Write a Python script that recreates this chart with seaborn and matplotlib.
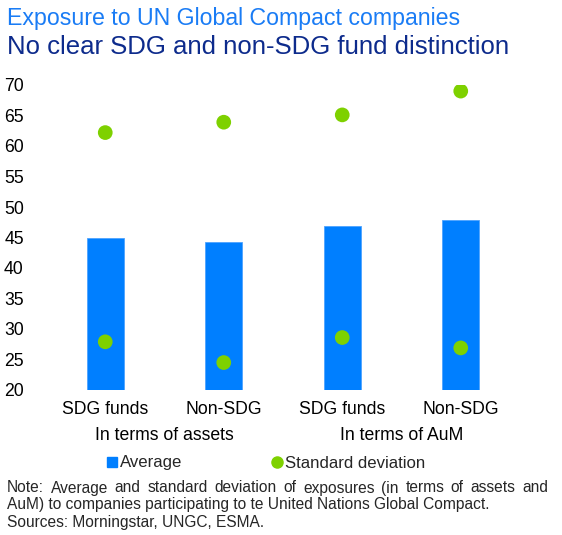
import matplotlib
matplotlib.use("Agg")
import matplotlib.pyplot as plt
import seaborn as sns
import pandas as pd
from matplotlib.lines import Line2D
from matplotlib.transforms import blended_transform_factory

# ---- data ----
categories = ["SDG funds", "Non-SDG", "SDG funds ", "Non-SDG "]
tick_labels = ["SDG funds", "Non-SDG", "SDG funds", "Non-SDG"]
groups = ["In terms of assets", "In terms of AuM"]
average = [45.0, 44.2, 46.9, 47.9]
sd_upper = [62.2, 63.9, 65.1, 69.0]
sd_lower = [27.9, 24.5, 28.6, 26.9]
yticks = [20, 25, 30, 35, 40, 45, 50, 55, 60, 65, 70]

title1 = "Exposure to UN Global Compact companies"
title2 = "No clear SDG and non-SDG fund distinction"
note_line1 = "Note: Average and standard deviation of exposures (in terms of assets and"
note_line2 = "AuM) to companies participating to te United Nations Global Compact."
note_line3 = "Sources: Morningstar, UNGC, ESMA."

BAR = "#007FFF"
GREEN = "#7ED100"
T1 = "#1A7CF5"
T2 = "#0D2B8C"

sns.set_theme(style="white")
plt.rcParams["font.family"] = ["Liberation Sans", "DejaVu Sans"]

W, H = 562, 535
fig = plt.figure(figsize=(W / 100, H / 100), dpi=100)
ax = fig.add_axes([46 / W, 1 - 390 / H, (520 - 46) / W, (390 - 85) / H])

df_bar = pd.DataFrame({"cat": categories, "avg": average})
sns.barplot(data=df_bar, x="cat", y="avg", color=BAR, saturation=1,
            width=0.31, ax=ax, edgecolor="#4da3ff", linewidth=0.6)

df_pts = pd.DataFrame({"cat": categories * 2, "val": sd_upper + sd_lower})
ax.scatter(df_pts["cat"], df_pts["val"], s=112, color=GREEN,
           edgecolors="none", zorder=5)

ax.set_ylim(20, 70)
ax.set_xlim(-0.5, 3.5)
ax.set_yticks(yticks)
ax.set_yticklabels([str(v) for v in yticks])
ax.set_xticks(range(len(categories)))
ax.set_xticklabels(tick_labels)
ax.set_xlabel("")
ax.set_ylabel("")
for s in ax.spines.values():
    s.set_visible(False)
ax.tick_params(axis="both", length=0, labelsize=12.7, colors="black")
ax.tick_params(axis="x", pad=8)
ax.tick_params(axis="y", pad=16)
ax.grid(False)

# group labels
tr = blended_transform_factory(ax.transData, fig.transFigure)
ax.text(0.5, 1 - 435 / H, groups[0], transform=tr, ha="center", va="center",
        fontsize=12.7, color="black")
ax.text(2.5, 1 - 435 / H, groups[1], transform=tr, ha="center", va="center",
        fontsize=12.7, color="black")

# titles
fig.text(7 / W, 1 - 25 / H, title1, color=T1, fontsize=16.7, va="baseline", ha="left")
fig.text(7 / W, 1 - 54 / H, title2, color=T2, fontsize=18.5, va="baseline", ha="left")

# legend
handles = [Line2D([], [], linestyle="none", marker="s", markersize=7,
                  markerfacecolor=BAR, markeredgecolor=BAR, label="Average"),
           Line2D([], [], linestyle="none", marker="o", markersize=8,
                  markerfacecolor=GREEN, markeredgecolor=GREEN, label="Standard deviation")]
fig.legend(handles=handles, loc="center", bbox_to_anchor=(266 / W, 1 - 463 / H),
           ncol=2, frameon=False, fontsize=12.1, handlelength=0.6,
           handletextpad=0.2, columnspacing=5.3, borderpad=0)

# notes (first line justified)
fs_note = 11.2
fig.canvas.draw()
renderer = fig.canvas.get_renderer()
words = note_line1.split(" ")
x0, x1 = 7, 548
widths = []
for w in words:
    t = fig.text(0, 0, w, fontsize=fs_note)
    widths.append(t.get_window_extent(renderer).width)
    t.remove()
gap = (x1 - x0 - sum(widths)) / (len(words) - 1)
x = x0
for w, wd in zip(words, widths):
    fig.text(x / W, 1 - 488 / H, w, fontsize=fs_note, va="center", ha="left")
    x += wd + gap
fig.text(7 / W, 1 - 505 / H, note_line2, fontsize=fs_note, va="center", ha="left")
fig.text(7 / W, 1 - 522 / H, note_line3, fontsize=fs_note, va="center", ha="left")

fig.savefig("out.png", dpi=100)
